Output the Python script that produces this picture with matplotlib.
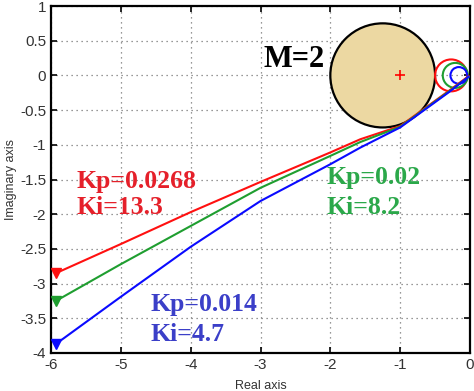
import matplotlib
matplotlib.use("Agg")
import matplotlib.pyplot as plt
from matplotlib.patches import Circle

# ---- data ----
red_x = [-5.93, -5.0, -4.0, -3.0, -2.0, -1.57, -1.0, -0.67, -0.30, -0.02]
red_y = [-2.85, -2.43, -1.97, -1.535, -1.11, -0.92, -0.73, -0.49, -0.22, -0.01]
green_x = [-5.93, -5.0, -4.0, -3.0, -2.0, -1.57, -1.0, -0.67, -0.30, -0.02]
green_y = [-3.25, -2.72, -2.17, -1.62, -1.16, -0.96, -0.74, -0.50, -0.23, -0.02]
blue_x = [-5.93, -5.0, -4.0, -3.0, -2.0, -1.57, -1.0, -0.67, -0.30, -0.02]
blue_y = [-3.87, -3.19, -2.47, -1.81, -1.28, -1.04, -0.75, -0.51, -0.24, -0.02]

m_center = (-1.25, 0.0)
m_radius = 0.75
small_centers = [-0.27, -0.21, -0.16]
small_radii = [0.23, 0.18, 0.12]
small_colors = ["#ff1010", "#1f9e30", "#0a0aff"]

labels = [("M=2", -2.96, 0.12, "black", 22),
          ("Kp=0.0268", -5.63, -1.62, "#e5202a", 18.5),
          ("Ki=13.3", -5.63, -2.0, "#e5202a", 18.5),
          ("Kp=0.02", -2.05, -1.57, "#2ba84a", 18.5),
          ("Ki=8.2", -2.05, -2.0, "#2ba84a", 18.5),
          ("Kp=0.014", -4.58, -3.40, "#3b3fc8", 18.5),
          ("Ki=4.7", -4.58, -3.83, "#3b3fc8", 18.5)]

xticks = [-6, -5, -4, -3, -2, -1, 0]
yticks = [-4, -3.5, -3, -2.5, -2, -1.5, -1, -0.5, 0, 0.5, 1]
yticklabels = ["-4", "-3.5", "-3", "-2.5", "-2", "-1.5", "-1", "-0.5", "0", "0.5", "1"]

fig = plt.figure(figsize=(4.74, 3.91), dpi=100)
ax = fig.add_axes([51/474, 1-353/391, (470-51)/474, (353-6)/391])
ax.set_xlim(-6, 0)
ax.set_ylim(-4, 1)

ax.add_patch(Circle(m_center, m_radius, facecolor="#ecd8a2", edgecolor="black", lw=1.6, zorder=2))
for c, r, col in zip(small_centers, small_radii, small_colors):
    ax.add_patch(Circle((c, 0), r, facecolor="none", edgecolor=col, lw=1.5, zorder=3))
ax.plot([-1], [0], marker="+", color="red", ms=7, mew=1.2, zorder=4)

for xs, ys, col in [(red_x, red_y, "#ff1010"), (green_x, green_y, "#1f9e30"), (blue_x, blue_y, "#0a0aff")]:
    ax.plot(xs, ys, color=col, lw=1.5, zorder=3)
    ax.plot(xs[0], ys[0], marker="v", color=col, ms=7, zorder=3)

for t, x, y, col, fs in labels:
    ax.text(x, y, t, color=col, fontsize=fs, fontweight="bold",
            family="Liberation Serif", ha="left", va="baseline", zorder=5)

ax.set_xticks(xticks)
ax.set_xticklabels([str(v) for v in xticks])
ax.set_yticks(yticks)
ax.set_yticklabels(yticklabels)
ax.grid(True, linestyle=(0, (1, 3)), color="#777777", lw=0.9)
ax.set_axisbelow(True)
ax.tick_params(direction="in", top=True, right=True, length=4, width=1.2,
               labelsize=11, colors="black")
for lab in ax.get_xticklabels() + ax.get_yticklabels():
    lab.set_family("Liberation Sans")
    lab.set_color("#333333")
for sp in ax.spines.values():
    sp.set_linewidth(1.6)
ax.set_xlabel("Real axis", fontsize=9, family="Liberation Sans", color="#333333", labelpad=6)
ax.set_ylabel("Imaginary axis", fontsize=9, family="Liberation Sans", color="#333333", labelpad=2)

fig.savefig("out.png", dpi=100)
